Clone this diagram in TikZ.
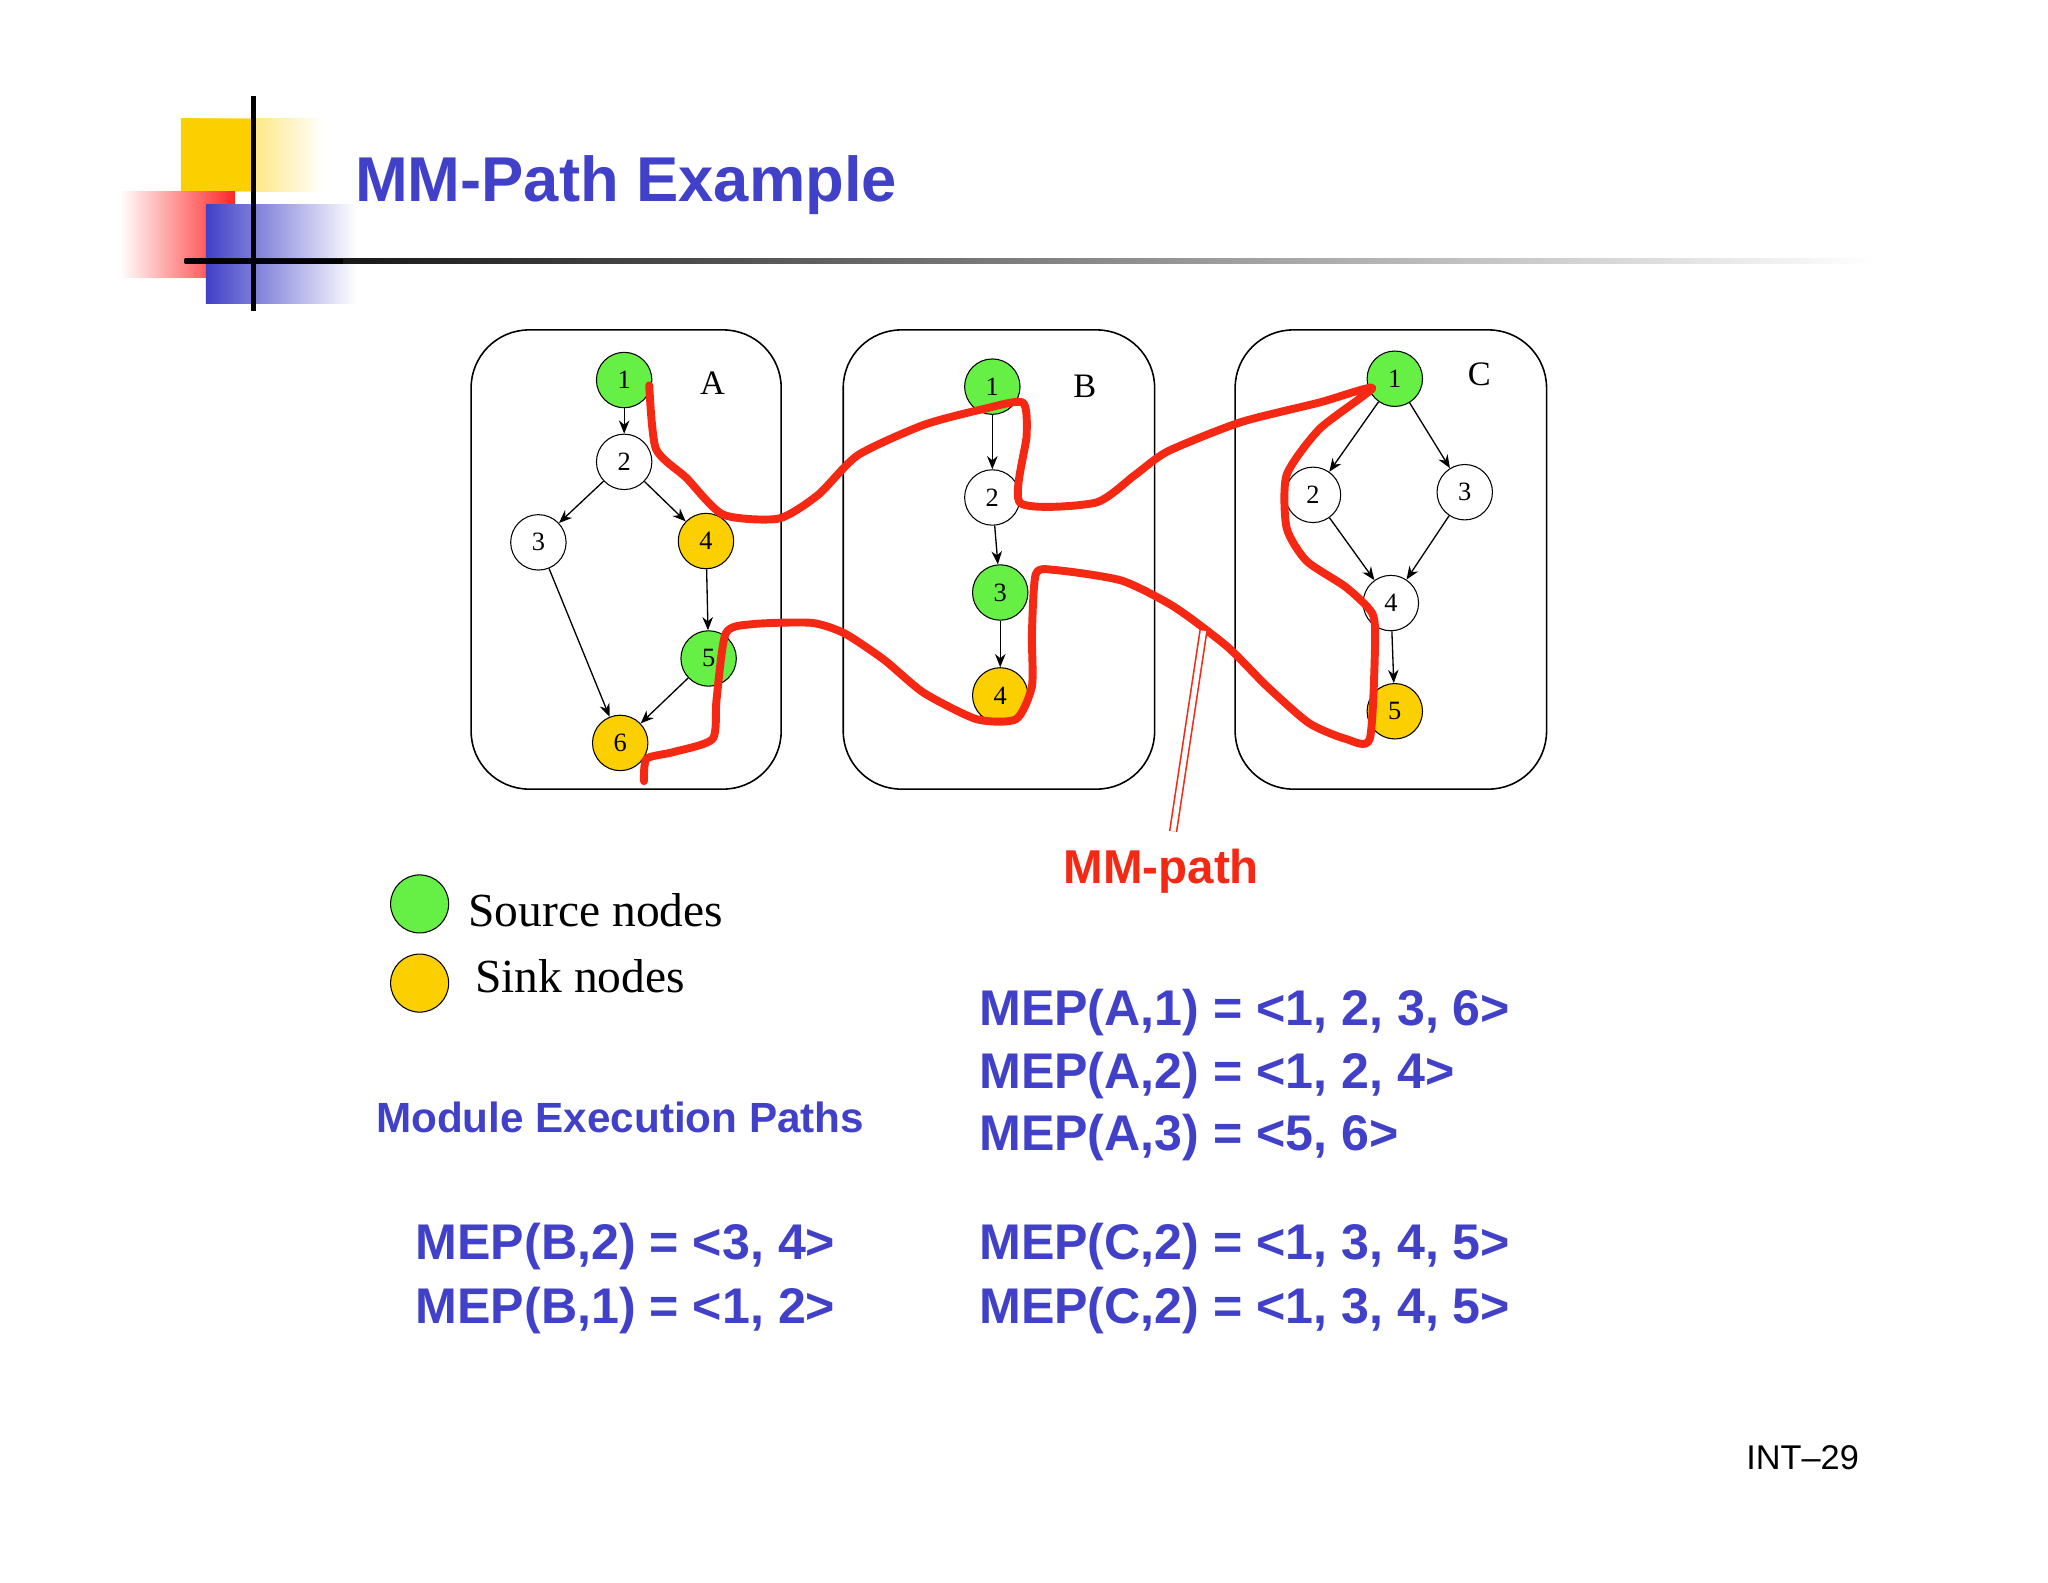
\documentclass[tikz,border=0pt]{standalone}
\usepackage{fontspec}
\setmainfont{Liberation Sans}
\newfontfamily\serifx{Liberation Serif}
\usetikzlibrary{arrows.meta}
\definecolor{tblue}{RGB}{64,64,200}
\definecolor{ngreen}{RGB}{102,240,70}
\definecolor{nyellow}{RGB}{252,208,0}
\definecolor{pred}{RGB}{245,40,20}
\begin{document}
\begin{tikzpicture}[x=0.5pt,y=-0.5pt,
 nd/.style={circle,draw,minimum size=21pt,inner sep=0pt,font=\serifx\fontsize{10}{10}\selectfont},
 src/.style={nd,fill=ngreen}, snk/.style={nd,fill=nyellow},
 box/.style={draw,rounded corners=22pt,line width=0.6pt},
 ed/.style={-{Stealth[length=5pt,width=4pt]},line width=0.5pt},
 mep/.style={anchor=west,text=tblue,font=\bfseries\fontsize{19}{19}\selectfont},
 lbl/.style={font=\serifx\fontsize{13}{13}\selectfont}]
\useasboundingbox (0,0) rectangle (1552,1199);
% decoration
\shade[left color=nyellow,right color=white] (137,90) rectangle (245,145);
\fill[nyellow] (137,90) rectangle (190,145);
\shade[left color=white,right color=red!85] (91,145) rectangle (178,210);
\shade[left color=tblue,right color=white] (156,155) rectangle (270,230);
\shade[left color=black,right color=white] (140,196) rectangle (1420,200);
\fill[black] (140,196) rectangle (260,200);
\draw[line width=2pt] (192,73) -- (192,236);
\node[anchor=west,text=tblue,font=\bfseries\fontsize{24}{24}\selectfont] (title) at (262,140) {MM-Path Example};
% boxes
\draw[box] (357,250) rectangle (592,598);
\draw[box] (639,250) rectangle (875,598);
\draw[box] (936,250) rectangle (1172,598);
% module A
\node[src] (a1) at (473,288) {1};
\node[nd] (a2) at (473,350) {2};
\node[nd] (a3) at (408,411) {3};
\node[snk] (a4) at (535,410) {4};
\node[src] (a5) at (537,499) {5};
\node[snk] (a6) at (470,563) {6};
\node[lbl] (la) at (540,290) {A};
\draw[ed] (a1)--(a2); \draw[ed] (a2)--(a3); \draw[ed] (a2)--(a4);
\draw[ed] (a4)--(a5); \draw[ed] (a3)--(a6); \draw[ed] (a5)--(a6);
% module B
\node[src] (b1) at (752,293) {1};
\node[nd] (b2) at (752,377) {2};
\node[src] (b3) at (758,449) {3};
\node[snk] (b4) at (758,527) {4};
\node[lbl] (lb) at (822,293) {B};
\draw[ed] (b1)--(b2); \draw[ed] (b2)--(b3); \draw[ed] (b3)--(b4);
% module C
\node[src] (c1) at (1057,287) {1};
\node[nd] (c2) at (995,375) {2};
\node[nd] (c3) at (1110,373) {3};
\node[nd] (c4) at (1054,457) {4};
\node[snk] (c5) at (1057,539) {5};
\node[lbl] (lc) at (1121,284) {C};
\draw[ed] (c1)--(c2); \draw[ed] (c1)--(c3); \draw[ed] (c2)--(c4);
\draw[ed] (c3)--(c4); \draw[ed] (c4)--(c5);
% MM path
\draw[pred,line width=3pt,line join=round,line cap=round] plot[smooth,tension=0.4] coordinates {
(492,292) (497,340) (520,362) (548,390) (590,393) (620,375) (650,345) (700,322) (745,310) (775,305) (778,330) (773,381) (830,381) (860,360) (885,342) (940,320) (1000,305) (1040,294) (1000,325) (975,360) (975,400) (990,425) (1020,445) (1040,465) (1042,490) (1038,560) (1020,560) (992,548) (960,520) (930,490) (890,460) (850,440) (800,432) (785,435) (782,480) (782,520) (770,545) (740,545) (700,525) (670,500) (640,480) (615,472) (570,473) (550,480) (543,530) (540,560) (510,570) (490,575) (488,592)};
\coordinate (mmtop) at (912,478);
\node[text=pred,font=\bfseries\fontsize{18}{18}\selectfont] (mm) at (880,660) {MM-path};
\draw[pred,double=white,double distance=2pt,line width=0.6pt] (mmtop) -- (889,630);
% legend
\node[circle,draw,fill=ngreen,minimum size=22pt] (ls) at (318,685) {};
\node[circle,draw,fill=nyellow,minimum size=22pt] (lk) at (318,745) {};
\node[anchor=west,font=\serifx\fontsize{18}{18}\selectfont] (ts) at (348,690) {Source nodes};
\node[anchor=west,font=\serifx\fontsize{18}{18}\selectfont] (tk) at (353,740) {Sink nodes};
\node[text=tblue,font=\bfseries\fontsize{16}{16}\selectfont] (mep) at (470,847) {Module Execution Paths};
\node[mep] (m1) at (735,767) {MEP(A,1) = <1, 2, 3, 6>};
\node[mep] (m2) at (735,815) {MEP(A,2) = <1, 2, 4>};
\node[mep] (m3) at (735,862) {MEP(A,3) = <5, 6>};
\node[mep] (m4) at (735,945) {MEP(C,2) = <1, 3, 4, 5>};
\node[mep] (m5) at (735,993) {MEP(C,2) = <1, 3, 4, 5>};
\node[mep] (m6) at (308,945) {MEP(B,2) = <3, 4>};
\node[mep] (m7) at (308,993) {MEP(B,1) = <1, 2>};
\node[font=\fontsize{13}{13}\selectfont] (pg) at (1366,1105) {INT–29};
\end{tikzpicture}
\end{document}
